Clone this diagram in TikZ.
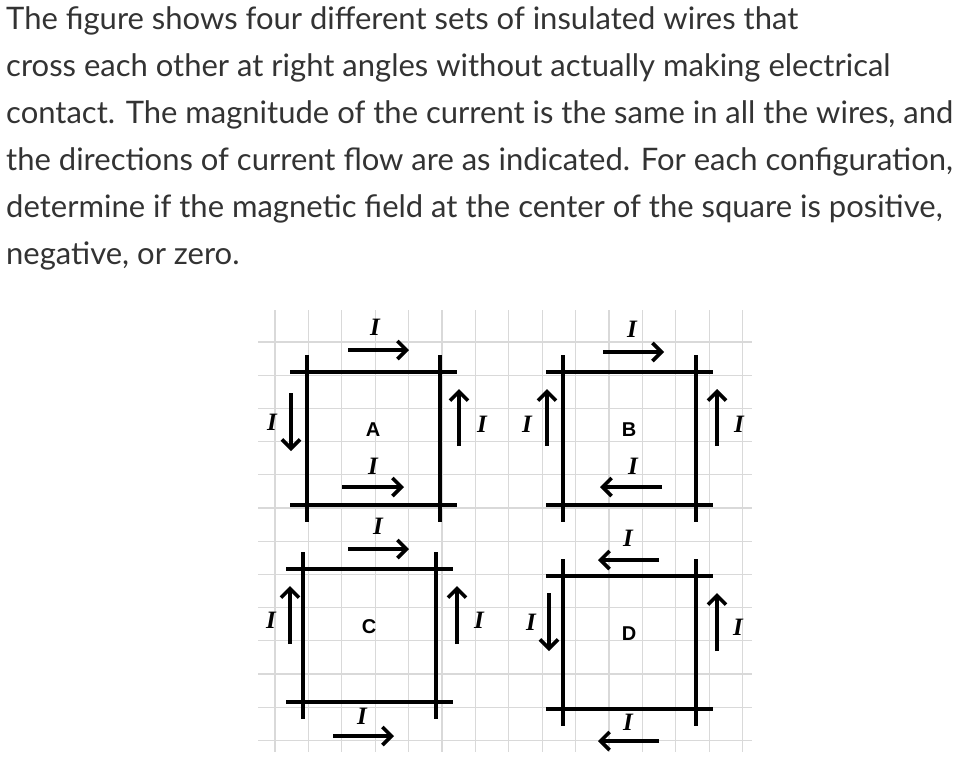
\documentclass[tikz,border=0pt]{standalone}
\usepackage{fontspec}
\setmainfont{Lato}
\newfontfamily\ifont{Liberation Serif}
\newfontfamily\lfont{Liberation Sans}
\usetikzlibrary{arrows.meta}

\tikzset{
  gridline/.style = {draw=black!15, line width=1.3pt},
  wire/.style = {line width=4.5pt},
  cur/.style = {line width=3.6pt, -{Straight Barb[length=9pt,width=18pt]}},
  ilabel/.style = {font=\ifont\bfseries\itshape\fontsize{25}{25}\selectfont},
  sqlabel/.style = {font=\lfont\bfseries\fontsize{20}{20}\selectfont},
  textline/.style = {anchor=base west, inner sep=0pt, text=black!80, font=\fontsize{31}{31}\selectfont}
}

% square of four wires with its name at the centre
\newcommand{\wiresquare}[4]{%
  \draw[wire] (#2-17,#3) -- (#2+150,#3);
  \draw[wire] (#2-17,#3+133) -- (#2+150,#3+133);
  \draw[wire] (#2,#3-17) -- (#2,#3+150);
  \draw[wire] (#2+133,#3-17) -- (#2+133,#3+150);
  \node[sqlabel] (#1) at (#2+66,#3+58) {#4};
}

\begin{document}
\begin{tikzpicture}[x=1pt,y=-1pt]
\useasboundingbox (0,0) rectangle (956,758);

\node[textline] (line1) at (6,29) {The figure shows four different sets of insulated wires that};
\node[textline] (line2) at (6,76) {cross each other at right angles without actually making electrical};
\node[textline] (line3) at (6,123) {contact. The magnitude of the current is the same in all the wires, and};
\node[textline] (line4) at (6,170) {the directions of current flow are as indicated. For each configuration,};
\node[textline] (line5) at (6,217) {determine if the magnetic field at the center of the square is positive,};
\node[textline] (line6) at (6,264) {negative, or zero.};

% grid
\foreach \i in {0,...,14}
  \draw[gridline] (275+33.4*\i,310) -- (275+33.4*\i,752);
\foreach \j in {0,...,12}
  \draw[gridline] (258,342+33.2*\j) -- (752,342+33.2*\j);

\wiresquare{A}{307}{372}{A}
\wiresquare{B}{563}{372}{B}
\wiresquare{C}{303}{569}{C}
\wiresquare{D}{563}{576}{D}

% A
\draw[cur] (348,350) -- (409,350);
\node[ilabel] (IAt) at (375,327) {I};
\draw[cur] (291,393) -- (291,451);
\node[ilabel] (IAl) at (272,422) {I};
\draw[cur] (459,446) -- (459,389);
\node[ilabel] (IAr) at (482,424) {I};
\draw[cur] (342,487) -- (404,487);
\node[ilabel] (IAb) at (373,466) {I};

% B
\draw[cur] (603,352) -- (664,352);
\node[ilabel] (IBt) at (632,329) {I};
\draw[cur] (547,446) -- (547,389);
\node[ilabel] (IBl) at (527,424) {I};
\draw[cur] (717,446) -- (717,389);
\node[ilabel] (IBr) at (739,424) {I};
\draw[cur] (662,487) -- (600,487);
\node[ilabel] (IBb) at (633,466) {I};

% C
\draw[cur] (348,549) -- (409,549);
\node[ilabel] (ICt) at (378,526) {I};
\draw[cur] (290,644) -- (290,586);
\node[ilabel] (ICl) at (271,620) {I};
\draw[cur] (457,644) -- (457,586);
\node[ilabel] (ICr) at (479,620) {I};
\draw[cur] (333,736) -- (394,736);
\node[ilabel] (ICb) at (362,716) {I};

% D
\draw[cur] (659,560) -- (598,560);
\node[ilabel] (IDt) at (628,538) {I};
\draw[cur] (549,593) -- (549,651);
\node[ilabel] (IDl) at (531,622) {I};
\draw[cur] (717,651) -- (717,593);
\node[ilabel] (IDr) at (738,627) {I};
\draw[cur] (659,741) -- (598,741);
\node[ilabel] (IDb) at (628,722) {I};
\end{tikzpicture}
\end{document}
